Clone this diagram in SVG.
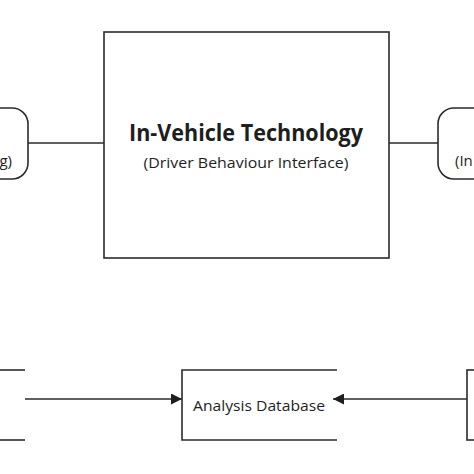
<svg xmlns="http://www.w3.org/2000/svg" width="474" height="474" viewBox="0 0 474 474">
<defs>
<style>
.ln{stroke:#2b2b2b;stroke-width:1.6;fill:none}
.bx{stroke:#2b2b2b;stroke-width:1.6;fill:#fff}
.t{font-family:"Open Sans","DejaVu Sans",sans-serif;fill:#1e1e1e}
</style>
<marker id="ah" viewBox="0 0 10 10" refX="10" refY="5" markerWidth="17" markerHeight="11" markerUnits="userSpaceOnUse" orient="auto">
<path d="M0,0 L10,5 L0,10 Z" fill="#1e1e1e"/>
</marker>
</defs>
<rect width="474" height="474" fill="#fff"/>
<g id="connectors">
<line class="ln" x1="28" y1="143" x2="104" y2="143"/>
<line class="ln" x1="389" y1="143" x2="438" y2="143"/>
<line class="ln" x1="25" y1="399" x2="182" y2="399" marker-end="url(#ah)"/>
<line class="ln" x1="467" y1="399" x2="333" y2="399" marker-end="url(#ah)"/>
</g>
<g id="node-left">
<rect class="bx" x="-100" y="108" width="128" height="71" rx="16"/>
<text class="t" x="12" y="166" font-size="15" text-anchor="end">g)</text>
</g>
<g id="node-main">
<rect class="bx" x="104" y="32" width="285" height="226"/>
<text class="t" x="246" y="141" font-size="24" font-weight="bold" text-anchor="middle" textLength="234" lengthAdjust="spacingAndGlyphs">In-Vehicle Technology</text>
<text class="t" x="246" y="168" font-size="15" text-anchor="middle" textLength="205" lengthAdjust="spacingAndGlyphs">(Driver Behaviour Interface)</text>
</g>
<g id="node-right">
<rect class="bx" x="438" y="108" width="100" height="71" rx="16"/>
<text class="t" x="455" y="166" font-size="15">(In</text>
</g>
<g id="node-left-store">
<line class="ln" x1="0" y1="370" x2="25" y2="370"/>
<line class="ln" x1="0" y1="440" x2="25" y2="440"/>
</g>
<g id="node-analysis">
<path class="ln" d="M337,370 H182 V440 H337"/>
<text class="t" x="259" y="411" font-size="15" text-anchor="middle" textLength="132" lengthAdjust="spacingAndGlyphs">Analysis Database</text>
</g>
<g id="node-right-box">
<rect class="bx" x="467" y="370" width="40" height="70"/>
</g>
</svg>
